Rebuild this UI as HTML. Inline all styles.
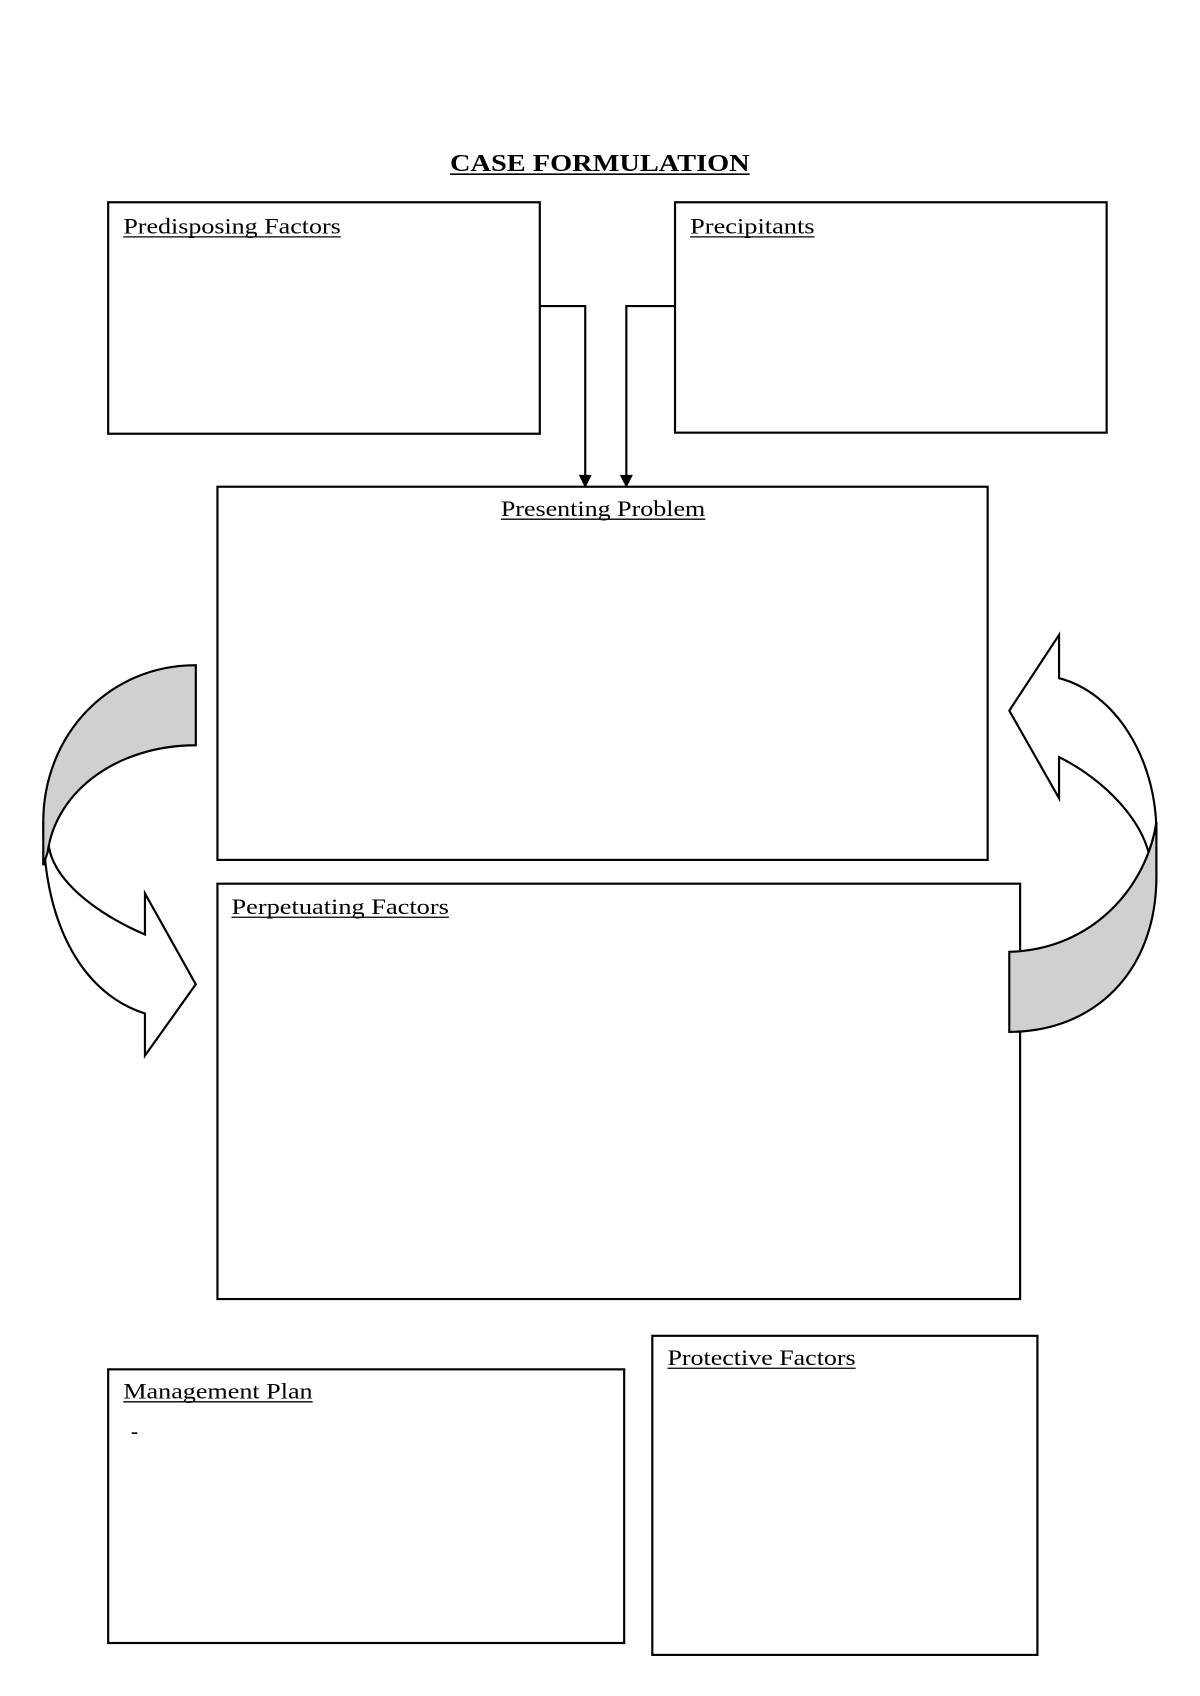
<!DOCTYPE html>
<html><head><meta charset="utf-8"><style>
html,body{margin:0;padding:0;background:#fff;}
svg{display:block;}
text{font-family:"Liberation Serif",serif;fill:#000;}
</style></head><body>
<svg width="1200" height="1696" viewBox="0 0 1109.3 1568" preserveAspectRatio="none" xmlns="http://www.w3.org/2000/svg">
<g fill="none" stroke="#000" stroke-width="2">
<rect x="100" y="187" width="399" height="214"/>
<rect x="624" y="187" width="399" height="213"/>
<rect x="201" y="450" width="712" height="345"/>
<rect x="201" y="817" width="742" height="384"/>
<rect x="100" y="1266" width="477" height="253"/>
<rect x="603" y="1235" width="356" height="295"/>
<polyline points="499,283 541,283 541,440"/>
<polyline points="624,283 579,283 579,440"/>
</g>
<polygon points="535,439 547,439 541,451" fill="#000"/>
<polygon points="573,439 585,439 579,451" fill="#000"/>
<path d="M40,760 C40,860 80,920 134,937 L134,976 L181,910 L134,826 L134,864 C90,845 50,815 45,782 Z" fill="#fff" stroke="#000" stroke-width="2"/>
<path d="M181,615 L181,689 C110,689 52,730 44,788 L40,800 L40,760 C40,680 100,615 181,615 Z" fill="#d0d0d0" stroke="#000" stroke-width="2"/>
<path d="M979,627 L979,587 L933,657 L979,738 L979,700 C1020,720 1060,760 1064,800 L1069,770 C1069,700 1030,640 979,627 Z" fill="#fff" stroke="#000" stroke-width="2"/>
<path d="M933,880 L933,954 C1010,954 1069,900 1069,810 L1069,760 C1060,820 1010,878 933,880 Z" fill="#d0d0d0" stroke="#000" stroke-width="2"/>
<g font-size="20">
<text x="416" y="158" font-weight="bold" font-size="22" textLength="277" lengthAdjust="spacingAndGlyphs">CASE FORMULATION</text>
<line x1="416" y1="161" x2="693" y2="161" stroke="#000" stroke-width="1.5"/>
<text x="114" y="216" textLength="201" lengthAdjust="spacingAndGlyphs">Predisposing Factors</text>
<line x1="114" y1="219" x2="315" y2="219" stroke="#000" stroke-width="1.2"/>
<text x="638" y="216" textLength="115" lengthAdjust="spacingAndGlyphs">Precipitants</text>
<line x1="638" y1="219" x2="753" y2="219" stroke="#000" stroke-width="1.2"/>
<text x="463" y="477" textLength="189" lengthAdjust="spacingAndGlyphs">Presenting Problem</text>
<line x1="463" y1="480" x2="652" y2="480" stroke="#000" stroke-width="1.2"/>
<text x="214" y="845" textLength="201" lengthAdjust="spacingAndGlyphs">Perpetuating Factors</text>
<line x1="214" y1="848" x2="415" y2="848" stroke="#000" stroke-width="1.2"/>
<text x="114" y="1293" textLength="175" lengthAdjust="spacingAndGlyphs">Management Plan</text>
<line x1="114" y1="1296" x2="289" y2="1296" stroke="#000" stroke-width="1.2"/>
<text x="121" y="1330">-</text>
<text x="617" y="1262" textLength="174" lengthAdjust="spacingAndGlyphs">Protective Factors</text>
<line x1="617" y1="1265" x2="791" y2="1265" stroke="#000" stroke-width="1.2"/>
</g>
</svg>
</body></html>
